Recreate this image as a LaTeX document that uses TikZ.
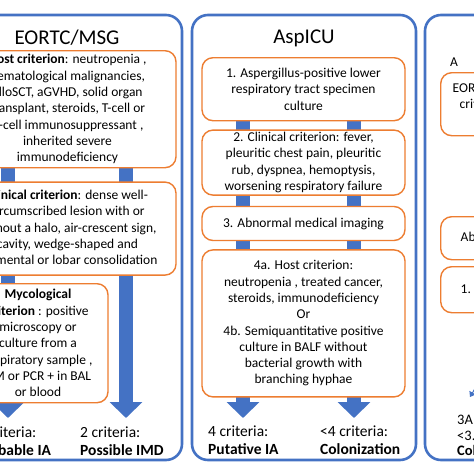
\documentclass[tikz,border=0pt]{standalone}
\usepackage{fontspec}
\setmainfont{Carlito}
\usetikzlibrary{positioning, arrows.meta, backgrounds}
\definecolor{panelblue}{HTML}{4472C4}
\definecolor{critorange}{HTML}{ED7D31}

\begin{document}
\begin{tikzpicture}[x=1pt, y=1pt,
  panel/.style={draw=panelblue, line width=2.6pt, rounded corners=16pt, fill=white},
  crit/.style={draw=critorange, line width=1.4pt, rounded corners=11pt, fill=white,
               align=center, inner sep=0pt, font=\fontsize{13.5}{16.3}\selectfont},
  cutbox/.style={crit, anchor=north west, align=left, minimum width=200pt,
                 text width=160pt, inner xsep=20pt},
  ttl/.style={font=\fontsize{21}{24}\selectfont, inner sep=0pt},
  res/.style={align=left, inner sep=0pt, font=\fontsize{15.5}{18.5}\selectfont},
  bigarr/.style={-{Triangle[width=32pt, length=16pt]}, line width=13.5pt, draw=panelblue},
  thinarr/.style={-{Triangle[width=7pt, length=5pt]}, line width=1pt, draw=panelblue},
]

\useasboundingbox (0,0) rectangle (474,-474);

% --- Nodes ---

% EORTC/MSG
\node[ttl] (t1) at (67,-38) {EORTC/MSG};
\node[crit, minimum width=217pt, minimum height=117pt, anchor=north] (e1) at (67.5,-50)
  {\textbf{Host criterion}: neutropenia ,\\hematological malignancies,\\alloSCT, aGVHD, solid organ\\
   transplant, steroids, T-cell or\\B-cell immunosuppressant ,\\inherited severe\\immunodeficiency};
\node[crit, minimum width=217pt, minimum height=93pt, below=13pt of e1] (e2)
  {\textbf{Clinical criterion}: dense well-\\circumscribed lesion with or\\without a halo, air-crescent sign,\\
   cavity, wedge-shaped and\\segmental or lobar consolidation};
\node[crit, minimum width=140pt, minimum height=119pt, anchor=north] (e3) at (38,-283)
  {\textbf{Mycological}\\\textbf{criterion} : positive\\microscopy or\\culture from a\\
   respiratory sample ,\\GM or PCR + in BAL\\or blood};
\node[res, anchor=west] (r3c) at (-24,-441) {3 criteria:\\\textbf{Probable IA}};
\node[res, anchor=west] (r2c) at (80,-441) {2 criteria:\\\textbf{Possible IMD}};

% AspICU
\node[ttl] (t2) at (304,-38) {AspICU};
\node[crit, minimum width=203pt, minimum height=63pt, anchor=north] (a1) at (303.5,-57)
  {1. Aspergillus-positive lower\\respiratory tract specimen\\culture};
\node[crit, minimum width=203pt, minimum height=65pt, below=8pt of a1] (a2)
  {2. Clinical criterion: fever,\\pleuritic chest pain, pleuritic\\rub, dyspnea, hemoptysis,\\
   worsening respiratory failure};
\node[crit, minimum width=203pt, minimum height=34pt, below=10pt of a2] (a3)
  {3. Abnormal medical imaging};
\node[crit, minimum width=203pt, minimum height=147pt, below=8pt of a3] (a4)
  {4a. Host criterion:\\neutropenia , treated cancer,\\steroids, immunodeficiency\\Or\\
   4b. Semiquantitative positive\\culture in BALF without\\bacterial growth with\\branching hyphae};
\node[res, anchor=west] (r4c) at (208,-440) {4 criteria:\\\textbf{Putative IA}};
\node[res, anchor=west] (rlt4) at (320,-440) {<4 criteria:\\\textbf{Colonization}};

% third panel (cut at the edge)
\node[anchor=west, inner sep=0pt, font=\fontsize{13.5}{16.3}\selectfont] (lbA) at (450,-62) {A};
\node[cutbox, minimum height=63pt, text width=176pt, inner xsep=12pt] (m1) at (440,-72)
  {EORTC/MSG\\\hspace*{7pt}criteria\\\mbox{}};
\node[cutbox, minimum height=43pt] (m2) at (440,-216) {Abnormal medical imaging};
\node[cutbox, minimum height=46pt] (m3) at (440,-266) {1.};
\node[anchor=west, align=left, inner sep=0pt, font=\fontsize{14.5}{15.5}\selectfont] (rres)
  at (457,-435.5) {3A\\<3.\\\textbf{Colonization}};

% arrow tips
\coordinate (p3) at (8,-418);
\coordinate (p2) at (126,-418);
\coordinate (p4) at (243,-418);
\coordinate (p5) at (354,-418);
\coordinate (q1) at (494,-356);
\coordinate (q2) at (470,-397);

% --- Panels and arrows ---
\begin{scope}[on background layer]
  \fill[white] (0,0) rectangle (474,-474);
  \draw[panel] (-47,-15) rectangle (182,-460);
  \draw[panel] (192,-15) rectangle (416,-460);
  \draw[panel] (425,-15) rectangle (650,-460);
  \draw[bigarr] (e1.south -| p3) -- (p3);
  \draw[bigarr] (e1.south -| p2) -- (p2);
  \draw[bigarr] (a1.south -| p4) -- (p4);
  \draw[bigarr] (a1.south -| p5) -- (p5);
  \draw[thinarr] (q1) -- (q2);
\end{scope}

\end{tikzpicture}
\end{document}
